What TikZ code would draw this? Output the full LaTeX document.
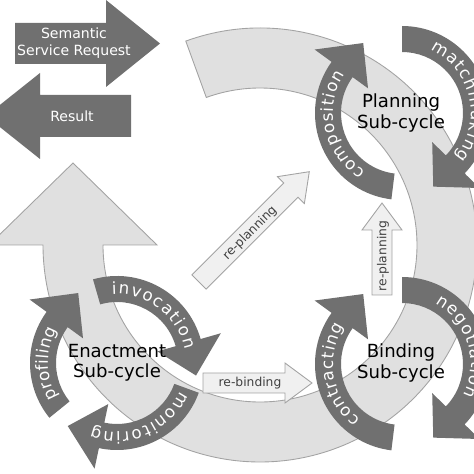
\documentclass[tikz,border=0pt]{standalone}
\usepackage{fontspec}
\setmainfont{DejaVu Sans}
\usetikzlibrary{decorations.text}

\definecolor{bandfill}{gray}{0.88}
\definecolor{bandline}{gray}{0.64}
\definecolor{cyclefill}{gray}{0.44}
\definecolor{hintfill}{gray}{0.94}

\newcommand\arcfont{\fontsize{9.5}{11}\selectfont\color{white}}
\newcommand\arclabel[4]{%
  \path[decorate, decoration={text along path, text align={fit to path},
    text={|\arcfont|#4}}] (#1) ++(#2:69) arc[start angle=#2, end angle=#3, radius=69];}

\tikzset{
  bigband/.style={fill=bandfill, draw=bandline, line width=0.5pt},
  hint arrow/.style={fill=hintfill, draw=bandline, line width=0.5pt},
  io arrow/.style={fill=cyclefill},
  hint text/.style={font=\fontsize{7}{8}\selectfont, text=black!75, inner sep=0pt},
  io text/.style={font=\fontsize{8}{9.5}\selectfont, text=white, align=center, inner sep=0pt},
  cycle name/.style={font=\fontsize{10.3}{11.5}\selectfont, align=center, inner sep=0pt},
  pics/cycle arrow/.style n args={3}{code={
    \path[pic actions] (#1:87) arc[start angle=#1, end angle=#2, radius=87]
      -- (#2:108) -- (#3:80) -- (#2:42) -- (#2:61)
      arc[start angle=#2, end angle=#1, radius=61] -- cycle;
  }},
  pics/flat arrow/.style n args={4}{code={
    \path[pic actions] (0,-#2) -- ({#1-#4},-#2) -- ({#1-#4},-#3) -- (#1,0)
      -- ({#1-#4},#3) -- ({#1-#4},#2) -- (0,#2) -- cycle;
  }},
}

\begin{document}
\begin{tikzpicture}[x=0.02cm, y=0.02cm]
\useasboundingbox (0,0) rectangle (474,474);
\clip (0,0) rectangle (474,474);

\coordinate (hub) at (260,229);
\coordinate (planning) at (402,361);
\coordinate (binding) at (402,110);
\coordinate (enactment) at (117,111);

% the big loop
\path[bigband] (hub) ++(110:217) arc[start angle=110, end angle=-180, radius=217]
  -- ++(-54,0) -- ++(84,82) -- ++(84,-82) -- ++(-54,0)
  arc[start angle=180, end angle=470, radius=157] -- cycle;

% shortcuts
\pic[hint arrow] at (203,91) {flat arrow={109}{10}{20}{27}};
\pic[hint arrow, rotate=45] at (199,192) {flat arrow={156}{10}{19}{26}};
\pic[hint arrow, rotate=90] at (382,179) {flat arrow={92}{10}{20}{27}};
\node[hint text] (rebind) at (250,91) {re-binding};
\node[hint text, rotate=45] (replan-a) at (250,241) {re-planning};
\node[hint text, rotate=90] (replan-b) at (383,218) {re-planning};

% sub-cycles
\pic[fill=cyclefill] at (planning) {cycle arrow={263}{144}{119}};
\pic[fill=cyclefill] at (planning) {cycle arrow={90}{-44}{-67}};
\pic[fill=cyclefill] at (binding) {cycle arrow={263}{144}{119}};
\pic[fill=cyclefill] at (binding) {cycle arrow={90}{-44}{-67}};
\pic[fill=cyclefill] at (enactment) {cycle arrow={106}{16}{-9}};
\pic[fill=cyclefill] at (enactment) {cycle arrow={-20}{-102}{-128}};
\pic[fill=cyclefill] at (enactment) {cycle arrow={219}{144}{119}};

\arclabel{planning}{238}{146}{composition}
\arclabel{planning}{66}{-40}{matchmaking}
\arclabel{binding}{233}{147}{contracting}
\arclabel{binding}{61}{-27}{negotiation}
\arclabel{enactment}{94}{11}{invocation}
\arclabel{enactment}{-24}{-111}{monitoring}
\arclabel{enactment}{210}{151}{profiling}

\node[cycle name] (planning label) at (401,361) {Planning\\Sub-cycle};
\node[cycle name] (binding label) at (401,111) {Binding\\Sub-cycle};
\node[cycle name] (enactment label) at (117,111) {Enactment\\Sub-cycle};

% request and result
\pic[io arrow] at (15,430.5) {flat arrow={145}{20.5}{43.5}{54}};
\pic[io arrow, rotate=180] at (131,358) {flat arrow={145}{21}{43}{54}};
\node[io text] (request) at (74,431) {Semantic\\Service Request};
\node[io text] (result) at (72,358) {Result};
\end{tikzpicture}
\end{document}
